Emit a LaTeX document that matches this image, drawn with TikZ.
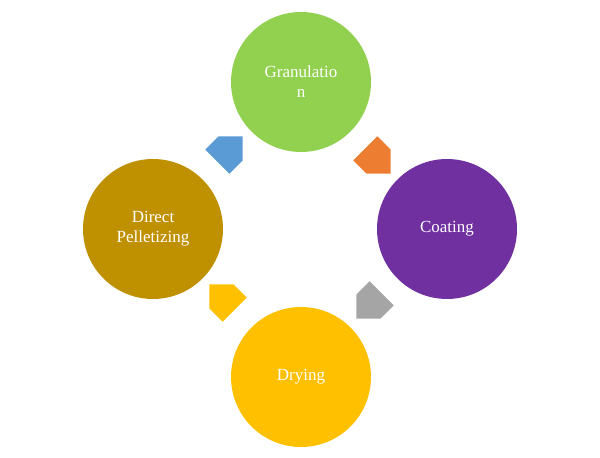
\documentclass[tikz,border=0pt]{standalone}
\usepackage{fontspec}
\setmainfont{Liberation Serif}
\usetikzlibrary{shapes.arrows}
\definecolor{cgreen}{HTML}{92D050}
\definecolor{cpurple}{HTML}{7030A0}
\definecolor{cyellow}{HTML}{FFC000}
\definecolor{cgold}{HTML}{BF9000}
\definecolor{corange}{HTML}{ED7D31}
\definecolor{cgray}{HTML}{A5A5A5}
\definecolor{cblue}{HTML}{5B9BD5}
\tikzset{
  stage/.style={circle,minimum size=140pt,inner sep=0pt,text=white,align=center,
    font=\fontsize{17}{20}\selectfont},
  turn/.style={single arrow,minimum height=36pt,minimum width=34pt,
    single arrow head extend=0pt,inner sep=0pt,draw=none}
}
\begin{document}
\begin{tikzpicture}[x=1pt,y=1pt]
\useasboundingbox (0,0) rectangle (600,458);
\node[stage,fill=cgreen] (gran) at (301,376) {Granulatio\\n};
\node[stage,fill=cpurple] (coat) at (447,229) {Coating};
\node[stage,fill=cyellow] (dry) at (301,81) {Drying};
\node[stage,fill=cgold] (pell) at (153,229) {Direct\\Pelletizing};
%
\node[turn,fill=corange,rotate=-45] (a1) at (372,303) {};
\node[turn,fill=cgray,rotate=-135] (a2) at (375,158) {};
\node[turn,fill=cyellow,rotate=135] (a3) at (228,155) {};
\node[turn,fill=cblue,rotate=45] (a4) at (224,303) {};
\end{tikzpicture}
\end{document}
